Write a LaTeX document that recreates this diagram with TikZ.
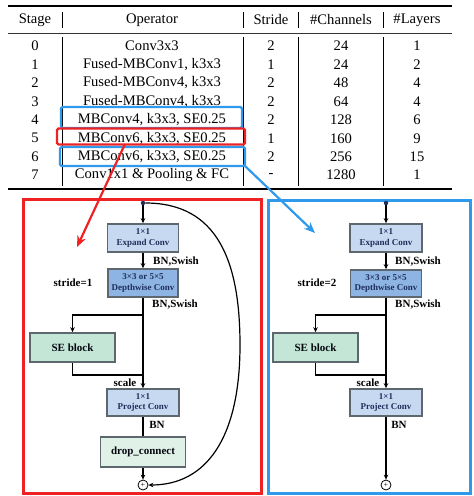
\documentclass[tikz,border=0pt]{standalone}
\usepackage{fontspec}
\setmainfont{Liberation Serif}
\usetikzlibrary{arrows.meta}
\definecolor{hlblue}{HTML}{2F9AEC}
\definecolor{hlred}{HTML}{EE2222}
\definecolor{pblue}{HTML}{C6D9F1}
\definecolor{dblue}{HTML}{8DB4E2}
\definecolor{sgreen}{HTML}{C3E6D6}
\definecolor{lgreen}{HTML}{E0F1E7}
\definecolor{bgray}{HTML}{5E676E}
\definecolor{navy}{HTML}{1F2F5C}
\tikzset{
  tcell/.style={font=\fontsize{14.6}{16}\selectfont, inner sep=0pt, anchor=center},
  hl/.style={draw, line width=2.2pt, rounded corners=1.5pt, inner sep=0pt},
  mbox/.style={draw=bgray, line width=1.6pt, align=center, inner sep=0pt, text=navy,
     font=\bfseries\fontsize{9}{10.5}\selectfont},
  bigbox/.style={mbox, font=\bfseries\fontsize{11}{12}\selectfont, text=black!85!navy},
  lab/.style={font=\bfseries\fontsize{11}{12}\selectfont, inner sep=0pt},
  conn/.style={line width=1.2pt, -{Stealth[length=5pt,width=4.5pt]}},
  plain/.style={line width=1.2pt},
  plusnode/.style={circle, draw, line width=0.8pt, minimum size=10pt, inner sep=0pt, font=\fontsize{8}{8}\selectfont},
  dotnode/.style={circle, fill=navy, minimum size=4.5pt, inner sep=0pt}
}
\begin{document}
\begin{tikzpicture}[x=1pt,y=-1pt]
\useasboundingbox (0,0) rectangle (474,496);
% table rules
\draw[line width=1.4pt] (8,6) -- (452,6);
\draw[line width=1pt, black!80] (8,33) -- (452,33);
\draw[line width=1.2pt] (8,189) -- (452,189);
\foreach \x in {62,243,298,383}{
  \draw[line width=0.8pt] (\x,12) -- (\x,28);
  \draw[line width=0.8pt] (\x,37) -- (\x,186);
}
% header
\node[tcell] (hstage) at (35,20) {Stage};
\node[tcell] (hop) at (152,20) {Operator};
\node[tcell] (hstr) at (271,20) {Stride};
\node[tcell] (hch) at (341,20) {\#Channels};
\node[tcell] (hlay) at (417,20) {\#Layers};
% rows
\foreach \i/\op/\s/\c/\l in {0/Conv3x3/2/24/1, 1/{Fused-MBConv1, k3x3}/1/24/2, 2/{Fused-MBConv4, k3x3}/2/48/4,
  3/{Fused-MBConv4, k3x3}/2/64/4, 4/{MBConv4, k3x3, SE0.25}/2/128/6, 5/{MBConv6, k3x3, SE0.25}/1/160/9,
  6/{MBConv6, k3x3, SE0.25}/2/256/15, 7/{Conv1x1 \& Pooling \& FC}/-/1280/1}{
  \node[tcell] (st\i) at (35,46+18.45*\i) {\i};
  \node[tcell] (op\i) at (152,46+18.45*\i) {\op};
  \node[tcell] (sr\i) at (271,46+18.45*\i) {\s};
  \node[tcell] (ch\i) at (341,46+18.45*\i) {\c};
  \node[tcell] (ly\i) at (417,46+18.45*\i) {\l};
}
% highlight boxes
\node[hl, draw=hlblue, minimum width=181pt, minimum height=21pt] (hb4) at (151.5,117.5) {};
\node[hl, draw=hlred, minimum width=188pt, minimum height=16pt] (hr5) at (151,136.5) {};
\node[hl, draw=hlblue, minimum width=185pt, minimum height=19pt] (hb6) at (152.5,156.5) {};
% panels
\node[draw=hlred, line width=3pt, minimum width=238pt, minimum height=294pt, inner sep=0pt] (panelL) at (142,346) {};
\node[draw=hlblue, line width=3pt, minimum width=202pt, minimum height=293pt, inner sep=0pt] (panelR) at (369,346.5) {};
% pointer arrows
\coordinate (ra) at (125,144);
\coordinate (rb) at (77,247);
\draw[hlred, line width=2.2pt, -{Stealth[length=11pt,width=9pt]}] (ra) -- (rb);
\coordinate (ba) at (245,166);
\coordinate (bb) at (315,233);
\draw[hlblue, line width=2.2pt, -{Stealth[length=11pt,width=9pt]}] (ba) -- (bb);

% ---------- left panel ----------
\node[dotnode] (dotL) at (143,203) {};
\node[mbox, fill=pblue, minimum width=71pt, minimum height=28pt] (expL) at (143,238) {1×1\\Expand Conv};
\node[mbox, fill=dblue, minimum width=70pt, minimum height=28pt] (dwL) at (143,283) {3×3 or 5×5\\Depthwise Conv};
\node[bigbox, fill=sgreen, minimum width=85pt, minimum height=29pt] (seL) at (72.5,347.5) {SE block};
\node[mbox, fill=pblue, minimum width=72pt, minimum height=27pt] (projL) at (143,402.5) {1×1\\Project Conv};
\node[bigbox, fill=lgreen, minimum width=85pt, minimum height=30pt] (dropL) at (143,452) {drop\_connect};
\node[plusnode] (plusL) at (143,485) {+};
\coordinate (splitL) at (143,315);
\coordinate (joinL) at (143,375);
\draw[conn] (dotL) -- (expL);
\draw[conn] (expL) -- (dwL);
\draw[conn] (dwL) -- (projL);
\draw[conn] (splitL) -| (seL.north);
\draw[plain] (seL.south) |- (joinL);
\draw[plain] (projL) -- (dropL);
\draw[conn] (dropL) -- (plusL);
\draw[conn] (dotL) .. controls (218,203) and (240,262) .. (240,345) .. controls (240,440) and (205,485) .. (plusL.east);
\node[lab] (bn1L) at (176,262) {BN,Swish};
\node[lab] (bn2L) at (175,305) {BN,Swish};
\node[lab] (strL) at (73,283) {stride=1};
\node[lab] (scL) at (125,383) {scale};
\node[lab] (bnL) at (157,425) {BN};

% ---------- right panel ----------
\node[dotnode] (dotR) at (386,203) {};
\node[mbox, fill=pblue, minimum width=72pt, minimum height=28pt] (expR) at (386,238) {1×1\\Expand Conv};
\node[mbox, fill=dblue, minimum width=71pt, minimum height=27pt] (dwR) at (386,283.5) {3×3 or 5×5\\Depthwise Conv};
\node[bigbox, fill=sgreen, minimum width=85pt, minimum height=29pt] (seR) at (315.5,347.5) {SE block};
\node[mbox, fill=pblue, minimum width=72pt, minimum height=27pt] (projR) at (386,402.5) {1×1\\Project Conv};
\node[plusnode] (plusR) at (386,485) {+};
\coordinate (splitR) at (386,315);
\coordinate (joinR) at (386,375);
\draw[conn] (dotR) -- (expR);
\draw[conn] (expR) -- (dwR);
\draw[conn] (dwR) -- (projR);
\draw[conn] (splitR) -| (seR.north);
\draw[plain] (seR.south) |- (joinR);
\draw[conn] (projR) -- (plusR);
\node[lab] (bn1R) at (418,262) {BN,Swish};
\node[lab] (bn2R) at (418,305) {BN,Swish};
\node[lab] (strR) at (317,283) {stride=2};
\node[lab] (scR) at (368,383) {scale};
\node[lab] (bnR) at (399,425) {BN};
\end{tikzpicture}
\end{document}
